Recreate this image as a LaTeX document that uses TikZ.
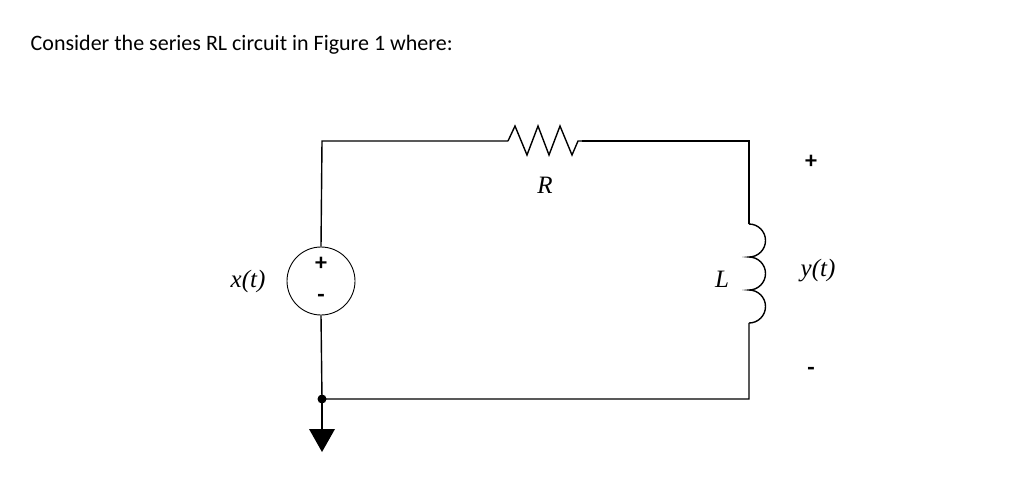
\documentclass[tikz,border=0pt]{standalone}
\usepackage{fontspec}
\newfontfamily\carl{Carlito}
\newfontfamily\ser{Liberation Serif}
\begin{document}
\begin{tikzpicture}[x=1pt,y=-1pt,line width=1.4pt,
  lbl/.style={inner sep=0pt,font=\ser\itshape\fontsize{25}{27}\selectfont},
  sgn/.style={inner sep=0pt,font=\carl\fontsize{24}{26}\selectfont\bfseries}]
\useasboundingbox (0,0) rectangle (1024,477);
\node[anchor=west,inner sep=0pt,font=\carl\fontsize{22}{26}\selectfont] (title) at (30,45) {Consider the series RL circuit in Figure 1 where:};
% nodes/coordinates
\coordinate (tl) at (322,141);
\coordinate (tr) at (749,141);
\coordinate (br) at (749,399);
\coordinate (gnd) at (322,399);
\coordinate (r1) at (508,141);
\coordinate (r2) at (582,141);
\coordinate (l1) at (749,224);
\coordinate (l2) at (749,323);
\node[circle,draw,line width=0.9pt,minimum size=68pt,inner sep=0pt] (src) at (321,281) {};
\node[sgn] (sp) at (321,264) {+};
\node[sgn] (sm) at (321,298) {-};
% wires
\draw (src.north) -- (tl) -- (r1);
\draw (r1) -- (515,126) -- (527,155) -- (538,126) -- (549,155) -- (560,126) -- (572,155) -- (578,141) -- (r2);
\draw (r2) -- (tr) -- (l1);
\draw (l1) arc[start angle=-90,end angle=90,radius=16.5]
           arc[start angle=-90,end angle=90,radius=16.5]
           arc[start angle=-90,end angle=90,radius=16.5];
\draw (l2) -- (br) -- (gnd) -- (src.south);
\fill (gnd) circle (4.5);
\draw (gnd) -- (322,429);
\fill (309,429) -- (335,429) -- (322,452) -- cycle;
% labels
\node[lbl] (R) at (545,185) {R};
\node[lbl] (L) at (722,279) {L};
\node[lbl] (x) at (248,281) {x(t)};
\node[lbl] (y) at (818,271) {y(t)};
\node[sgn] (yp) at (811,162) {+};
\node[sgn] (ym) at (811,371) {-};
\end{tikzpicture}
\end{document}
